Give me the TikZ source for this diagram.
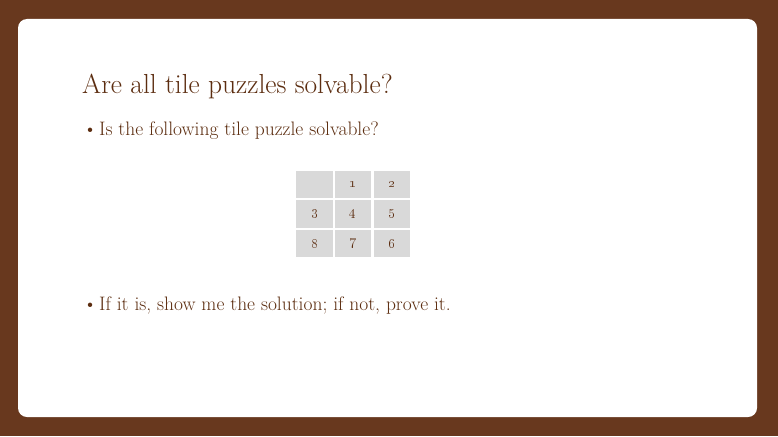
\documentclass[tikz,border=0pt]{standalone}
\usepackage{tikz}
\usepackage{xcolor}
\definecolor{slidebrown}{RGB}{104,56,30}
\definecolor{textbrown}{RGB}{92,45,16}
\definecolor{tilegray}{RGB}{217,217,217}

\begin{document}
\begin{tikzpicture}[x=1pt, y=-1pt,
	titletext/.style={anchor=base west, inner sep=0pt, text=textbrown, font=\fontsize{27.5}{30}\selectfont},
	bullettext/.style={anchor=base west, inner sep=0pt, text=textbrown, font=\fontsize{19.5}{22}\selectfont},
	tile/.style={draw=white, line width=1.5pt, fill=tilegray, minimum width=38pt, minimum height=29pt, inner sep=0pt, text=textbrown, font=\fontsize{15}{17}\selectfont}]
	%HINTERGRUND
	\fill[slidebrown] (0,0) rectangle (778,436);
	\useasboundingbox (0,0) rectangle (778,436);
	\fill[white, rounded corners=9pt] (18,19) rectangle (757,417);
	%
	%Titel
	\node (title) at (82,93) [titletext] {Are all tile puzzles solvable?};
	%
	%Punkt 1
	\node (dotone) at (83,135) [bullettext] {\textbullet};
	\node (itemone) at (99,135) [bullettext] {Is the following tile puzzle solvable?};
	%
	%Puzzle
	\node (tileA) at (314.5,184.5) [tile] {};
	\node (tileB) at (353,184.5) [tile] {\oldstylenums{1}};
	\node (tileC) at (392,184.5) [tile] {\oldstylenums{2}};
	\node (tileD) at (314.5,214) [tile] {\oldstylenums{3}};
	\node (tileE) at (353,214) [tile] {\oldstylenums{4}};
	\node (tileF) at (392,214) [tile] {\oldstylenums{5}};
	\node (tileG) at (314.5,243.5) [tile] {\oldstylenums{8}};
	\node (tileH) at (353,243.5) [tile] {\oldstylenums{7}};
	\node (tileI) at (392,243.5) [tile] {\oldstylenums{6}};
	%
	%Punkt 2
	\node (dottwo) at (83,310) [bullettext] {\textbullet};
	\node (itemtwo) at (99,310) [bullettext] {If it is, show me the solution; if not, prove it.};
\end{tikzpicture}
\end{document}
